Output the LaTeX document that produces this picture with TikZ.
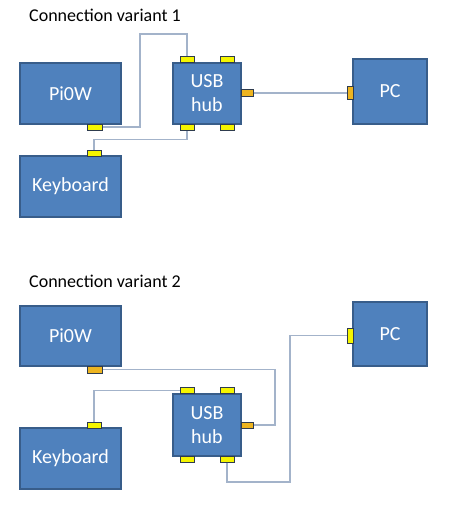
\documentclass[tikz,border=0pt]{standalone}
\usepackage{fontspec}
\setmainfont{Carlito}
\usepackage{tikz}
\usetikzlibrary{positioning, calc}
\definecolor{boxblue}{HTML}{4F81BD}
\definecolor{boxline}{HTML}{385D8A}
\definecolor{usbyel}{HTML}{F5F500}
\definecolor{usborg}{HTML}{EDB420}
\definecolor{portline}{HTML}{2E3B4E}
\definecolor{wirecol}{HTML}{A3B3CA}
\tikzset{
    device/.style={rectangle, draw=boxline, fill=boxblue, line width=1.3pt, inner sep=0pt,
        text=white, font=\fontsize{20}{24}\selectfont, align=center},
    port/.style={rectangle, draw=portline, line width=1pt, inner sep=0pt,
        minimum width=14pt, minimum height=6pt},
    yport/.style={port, fill=usbyel},
    oport/.style={port, fill=usborg},
    wire/.style={draw=wirecol, line width=1.2pt},
    caption/.style={anchor=base west, inner sep=0pt, font=\fontsize{18}{22}\selectfont}
}
\begin{document}
\begin{tikzpicture}[x=1pt, y=-1pt]
    \useasboundingbox (0,0) rectangle (474,514);

    % Variante 1
    \node[caption] (cap1) at (29,21) {Connection variant 1};
    \node[device, minimum width=101pt, minimum height=61pt] (pi1) at (70.5,93.5) {Pi0W};
    \node[device, minimum width=101pt, minimum height=61pt] (kb1) at (70.5,186.5) {Keyboard};
    \node[device, minimum width=68pt, minimum height=61pt] (hub1) at (207,93.5) {USB\\[0pt]hub};
    \node[device, minimum width=74pt, minimum height=65pt] (pc1) at (390,91.5) {PC};

    \node[yport, minimum width=15pt] (pip1) at (94.5,127) {};
    \node[yport] (kbp1) at (94,153) {};
    \node[yport] (htl1) at (187,59) {};
    \node[yport] (htr1) at (227,59) {};
    \node[yport] (hbl1) at (187,127) {};
    \node[yport] (hbr1) at (227,127) {};
    \node[oport, minimum width=12pt, minimum height=7pt] (hr1) at (247,93) {};
    \node[oport, minimum width=6pt, minimum height=13pt] (pcp1) at (350,93) {};

    \coordinate (up1) at (140,34);
    \draw[wire] (pip1.east) -| (up1) -| (htl1.north);
    \draw[wire] (kbp1.north) -- ++(0,-10) -| (hbl1.south);
    \draw[wire] (hr1.east) -- (pcp1.west);

    % Variante 2
    \node[caption] (cap2) at (29,287) {Connection variant 2};
    \node[device, minimum width=101pt, minimum height=60pt] (pi2) at (70.5,336) {Pi0W};
    \node[device, minimum width=101pt, minimum height=61pt] (kb2) at (70.5,458.5) {Keyboard};
    \node[device, minimum width=68pt, minimum height=62pt] (hub2) at (207,425) {USB\\[0pt]hub};
    \node[device, minimum width=74pt, minimum height=64pt] (pc2) at (390,334) {PC};

    \node[oport, minimum width=15pt, minimum height=7pt] (pip2) at (94.5,369.5) {};
    \node[yport] (kbp2) at (94,425) {};
    \node[yport] (htl2) at (187,390.5) {};
    \node[yport] (htr2) at (227,390.5) {};
    \node[yport] (hbl2) at (187,459) {};
    \node[yport] (hbr2) at (227,459) {};
    \node[oport, minimum width=12pt] (hr2) at (247,425) {};
    \node[yport, minimum width=6pt, minimum height=15pt] (pcp2) at (350,335.5) {};

    \coordinate (dn2) at (275,425);
    \coordinate (lo2) at (290,482);
    \draw[wire] (pip2.east) -| (dn2) -- (hr2.east);
    \draw[wire] (kbp2.north) |- (htl2.west);
    \draw[wire] (hbr2.south) |- (lo2) |- (pcp2.west);
\end{tikzpicture}
\end{document}
